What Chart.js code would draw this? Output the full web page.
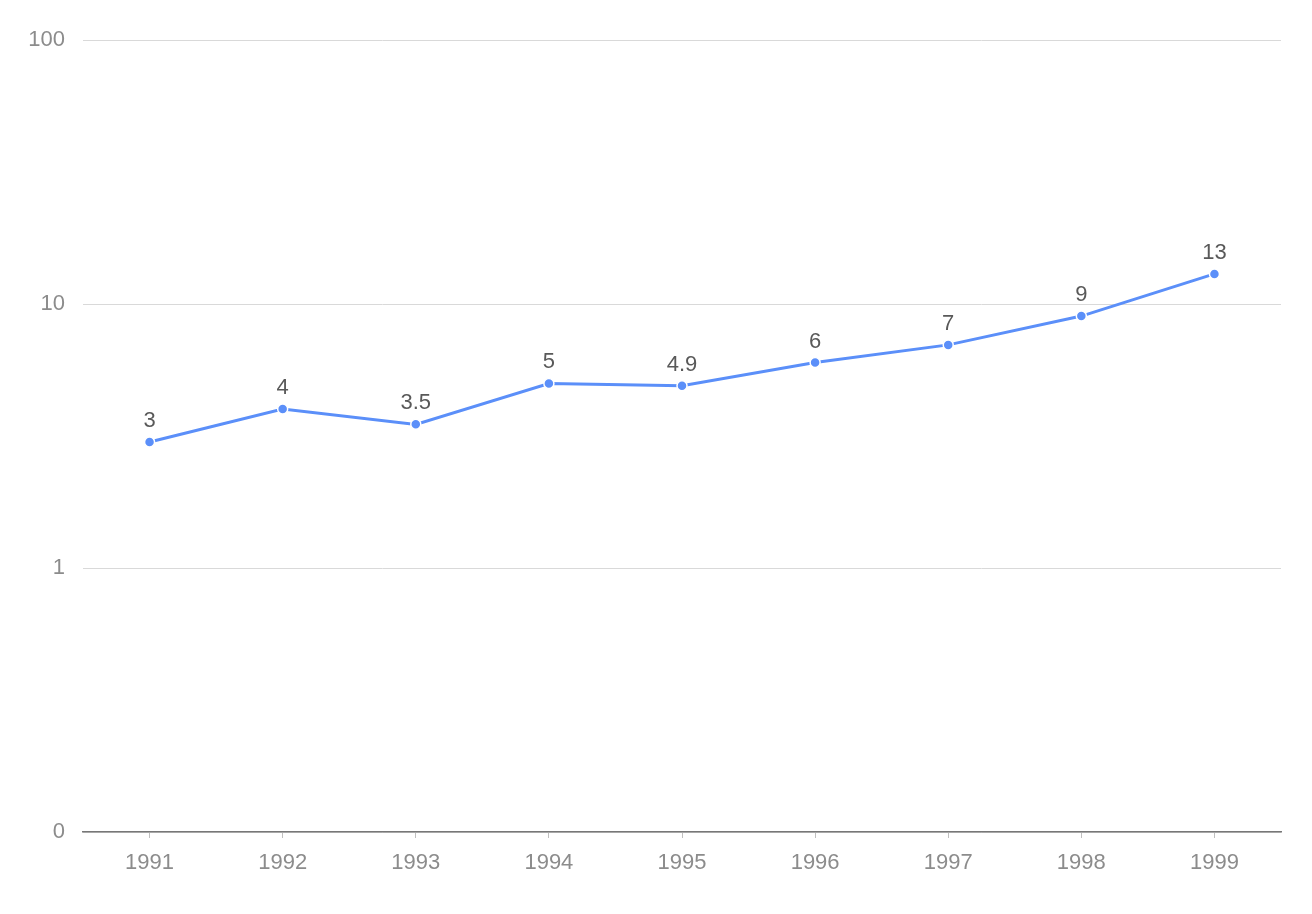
<!DOCTYPE html>
<html>
<head>
<meta charset="utf-8">
<script src="https://cdn.jsdelivr.net/npm/chart.js@4"></script>
<style>
  html, body { margin: 0; padding: 0; background: #fff; }
  #wrap { width: 1312px; height: 914px; }
</style>
</head>
<body>
<div id="wrap"><canvas id="myChart"></canvas></div>
<script>
var years = ['1991', '1992', '1993', '1994', '1995', '1996', '1997', '1998', '1999'];
var values = [3, 4, 3.5, 5, 4.9, 6, 7, 9, 13];
var yTicks = [0.1, 1, 10, 100];

// value labels above each point
var pointLabels = {
    id: 'pointLabels',
    afterDatasetsDraw: function (chart) {
        var ctx = chart.ctx;
        var meta = chart.getDatasetMeta(0);
        ctx.save();
        ctx.font = '22px "Liberation Sans", Arial, sans-serif';
        ctx.fillStyle = '#595959';
        ctx.textAlign = 'center';
        ctx.textBaseline = 'alphabetic';
        meta.data.forEach(function (pt, i) {
            ctx.fillText(String(values[i]), pt.x, pt.y - 15);
        });
        ctx.restore();
    }
};

var ctx = document.getElementById('myChart').getContext('2d');
var myChart = new Chart(ctx, {
    type: 'line',
    data: {
        labels: years,
        datasets: [{
            data: values,
            borderColor: '#5B8FF9',
            backgroundColor: '#5B8FF9',
            borderWidth: 3,
            pointRadius: 5,
            pointBorderColor: '#ffffff',
            pointBorderWidth: 1.5,
            tension: 0
        }]
    },
    options: {
        responsive: true,
        maintainAspectRatio: false,
        animation: false,
        layout: { padding: { top: 40, right: 31, left: 0, bottom: 0 } },
        plugins: {
            legend: { display: false },
            tooltip: { enabled: false }
        },
        scales: {
            x: {
                offset: true,
                grid: {
                    display: true,
                    drawOnChartArea: false,
                    drawTicks: true,
                    tickLength: 6,
                    tickColor: '#bfbfbf',
                    offset: false
                },
                border: { color: '#777777', width: 1.5 },
                ticks: {
                    color: '#8c8c8c',
                    padding: 12,
                    font: { size: 22, family: '"Liberation Sans", Arial, sans-serif' },
                    maxRotation: 0
                },
                afterFit: function (scale) { scale.height = 82; }
            },
            y: {
                type: 'logarithmic',
                min: 0.1,
                max: 100,
                afterBuildTicks: function (scale) {
                    scale.ticks = yTicks.map(function (v) { return { value: v }; });
                },
                grid: {
                    color: '#d9d9d9',
                    lineWidth: 1,
                    drawTicks: false
                },
                border: { display: false },
                ticks: {
                    color: '#8c8c8c',
                    padding: 18,
                    font: { size: 22, family: '"Liberation Sans", Arial, sans-serif' },
                    callback: function (v) { return v === 0.1 ? '0' : String(v); }
                },
                afterFit: function (scale) { scale.width = 83; }
            }
        }
    },
    plugins: [pointLabels]
});
</script>
</body>
</html>
